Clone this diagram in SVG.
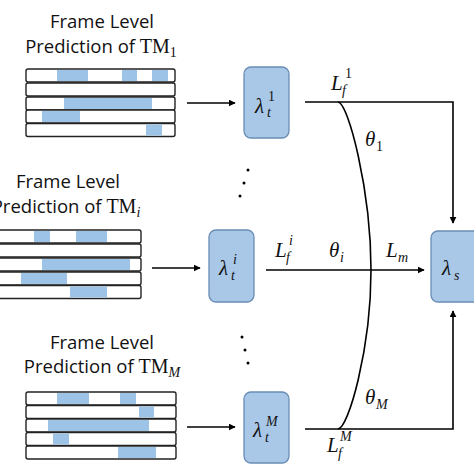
<svg xmlns="http://www.w3.org/2000/svg" width="474" height="474" viewBox="0 0 474 474">
<defs>
<marker id="ah" viewBox="0 0 10 10" refX="9" refY="5" markerWidth="7" markerHeight="7" orient="auto" markerUnits="userSpaceOnUse"><path d="M0,0 L10,5 L0,10 z" fill="#000"/></marker>
<style>
.title{font-family:"Open Sans","Liberation Sans",sans-serif;font-size:18.5px;fill:#111;text-anchor:middle}
.row{fill:#fff;stroke:#222;stroke-width:1.4}
.seg{fill:#9dc3e6}
.node{fill:#a9c8e8;stroke:#6a8db5;stroke-width:1.3}
.m{font-family:"Liberation Serif","DejaVu Serif",serif;font-style:italic;font-size:21px;fill:#111}
.s{font-family:"Liberation Serif","DejaVu Serif",serif;font-style:italic;font-size:14px;fill:#111}
.su{font-family:"Liberation Serif","DejaVu Serif",serif;font-size:14px;fill:#111}
.up{font-family:"Liberation Serif","DejaVu Serif",serif;font-size:20px;fill:#111}
.ln{stroke:#000;stroke-width:1.6;fill:none}
</style>
</defs>

<g id="tm1">
<text class="title" x="102" y="28">Frame Level</text>
<text class="title" x="101" y="53">Prediction of <tspan class="up">TM</tspan><tspan class="su" dy="4">1</tspan></text>
<rect class="row" x="26" y="69" width="149" height="13" rx="2"/>
<rect class="row" x="26" y="83" width="149" height="13" rx="2"/>
<rect class="row" x="26" y="97" width="149" height="13" rx="2"/>
<rect class="row" x="26" y="110" width="149" height="13" rx="2"/>
<rect class="row" x="26" y="123.5" width="149" height="13" rx="2"/>
<rect class="seg" x="57" y="70" width="31" height="11"/>
<rect class="seg" x="122" y="70" width="15" height="11"/>
<rect class="seg" x="152" y="70" width="16" height="11"/>
<rect class="seg" x="64" y="98" width="88" height="11"/>
<rect class="seg" x="42" y="111" width="38" height="11"/>
<rect class="seg" x="146" y="124.5" width="16" height="11"/>
</g>

<g id="tmi">
<text class="title" x="68" y="188">Frame Level</text>
<text class="title" x="66" y="213">Prediction of <tspan class="up">TM</tspan><tspan class="s" dy="4">i</tspan></text>
<rect class="row" x="-8" y="230" width="149" height="13" rx="2"/>
<rect class="row" x="-8" y="244" width="149" height="13" rx="2"/>
<rect class="row" x="-8" y="258" width="149" height="13" rx="2"/>
<rect class="row" x="-8" y="272" width="149" height="13" rx="2"/>
<rect class="row" x="-8" y="285.5" width="149" height="13" rx="2"/>
<rect class="seg" x="34" y="231" width="16" height="11"/>
<rect class="seg" x="76" y="231" width="31" height="11"/>
<rect class="seg" x="42" y="259" width="88" height="11"/>
<rect class="seg" x="21" y="273" width="46" height="11"/>
<rect class="seg" x="70" y="286.5" width="37" height="11"/>
</g>

<g id="tmM">
<text class="title" x="102" y="349">Frame Level</text>
<text class="title" x="102" y="373">Prediction of <tspan class="up">TM</tspan><tspan class="s" dy="4">M</tspan></text>
<rect class="row" x="26" y="392" width="150" height="13" rx="2"/>
<rect class="row" x="26" y="405.5" width="150" height="13" rx="2"/>
<rect class="row" x="26" y="419" width="150" height="13" rx="2"/>
<rect class="row" x="26" y="432.5" width="150" height="13" rx="2"/>
<rect class="row" x="26" y="446" width="150" height="13" rx="2"/>
<rect class="seg" x="57" y="393" width="32" height="11"/>
<rect class="seg" x="120" y="393" width="16" height="11"/>
<rect class="seg" x="139" y="406.5" width="15" height="11"/>
<rect class="seg" x="48" y="420" width="101" height="11"/>
<rect class="seg" x="53" y="433.5" width="16" height="11"/>
<rect class="seg" x="118" y="447" width="38" height="11"/>
</g>

<g id="lt1">
<rect class="node" x="244" y="67" width="45" height="71" rx="7"/>
<text class="m" x="255" y="113">λ</text><text class="su" x="268" y="101">1</text><text class="s" x="267" y="117">t</text>
</g>
<g id="lti">
<rect class="node" x="209" y="230" width="45" height="72" rx="7"/>
<text class="m" x="219" y="275">λ</text><text class="s" x="233" y="264">i</text><text class="s" x="231" y="280">t</text>
</g>
<g id="ltM">
<rect class="node" x="244" y="392" width="45" height="71" rx="7"/>
<text class="m" x="253" y="437">λ</text><text class="s" x="266" y="426">M</text><text class="s" x="265" y="442">t</text>
</g>
<g id="ls">
<rect class="node" x="431" y="231" width="50" height="71" rx="7"/>
<text class="m" x="442" y="275">λ</text><text class="s" x="454" y="280">s</text>
</g>

<g id="dots" fill="#000">
<circle cx="248" cy="170" r="1.5"/><circle cx="244" cy="183" r="1.5"/><circle cx="240" cy="196" r="1.5"/>
<circle cx="242" cy="337" r="1.5"/><circle cx="245" cy="350" r="1.5"/><circle cx="248" cy="363" r="1.5"/>
</g>

<g id="connectors">
<line class="ln" x1="187" y1="103" x2="235" y2="103" marker-end="url(#ah)"/>
<line class="ln" x1="152" y1="268" x2="200" y2="268" marker-end="url(#ah)"/>
<line class="ln" x1="187" y1="427" x2="235" y2="427" marker-end="url(#ah)"/>
<polyline class="ln" points="305,102 453,102 453,223" marker-end="url(#ah)"/>
<polyline class="ln" points="305,429 453,429 453,311" marker-end="url(#ah)"/>
<line class="ln" x1="266" y1="270" x2="424" y2="270" marker-end="url(#ah)"/>
<path class="ln" d="M338,102 C348,102 371,190 371,270 C371,350 348,429 338,429"/>
</g>

<g id="labels">
<text class="m" x="331" y="90">L</text><text class="su" x="345" y="78">1</text><text class="s" x="342" y="95">f</text>
<text class="m" x="365" y="146">θ</text><text class="su" x="376" y="151">1</text>
<text class="m" x="275" y="257">L</text><text class="s" x="289" y="245">i</text><text class="s" x="286" y="262">f</text>
<text class="m" x="329" y="257">θ</text><text class="s" x="340" y="262">i</text>
<text class="m" x="386" y="257">L</text><text class="s" x="398" y="262">m</text>
<text class="m" x="365" y="404">θ</text><text class="s" x="376" y="409">M</text>
<text class="m" x="327" y="452">L</text><text class="s" x="340" y="441">M</text><text class="s" x="338" y="458">f</text>
</g>
</svg>
